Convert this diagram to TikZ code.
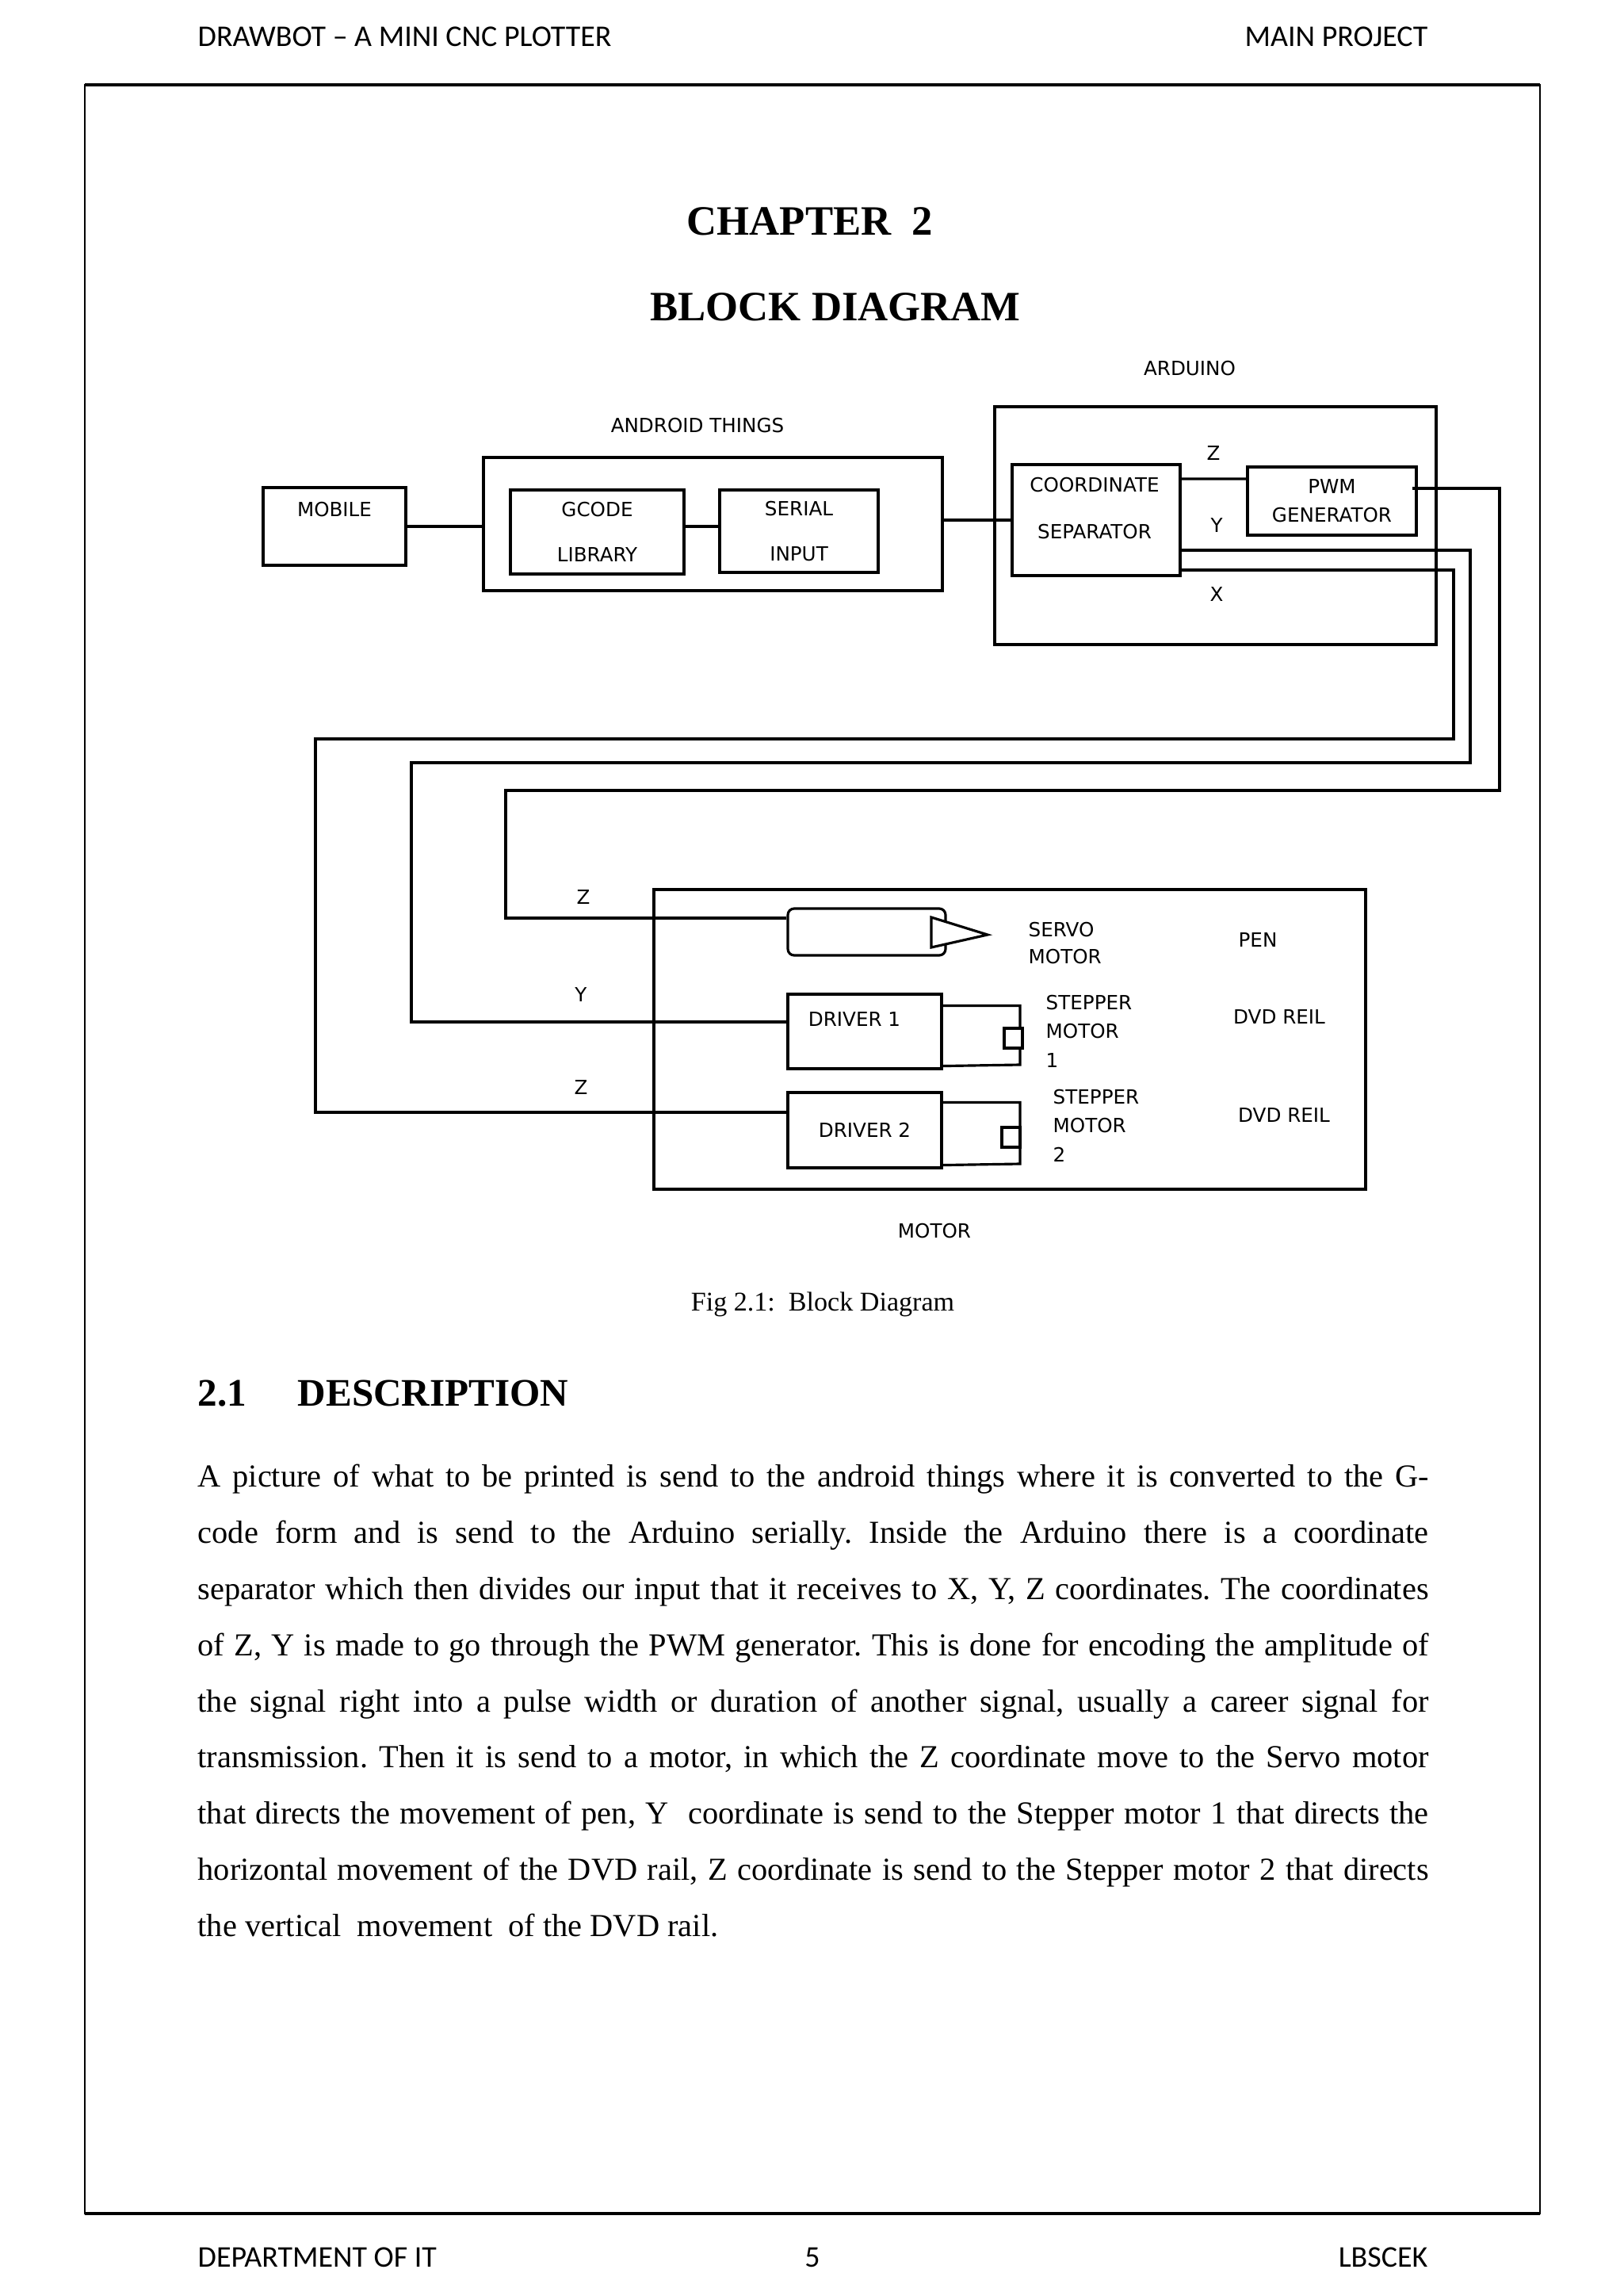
\documentclass[tikz,border=0pt]{standalone}
\usepackage{fontspec}
\setmainfont{Liberation Serif}
\newfontfamily\headfont{Carlito}
\newfontfamily\diagfont{DejaVu Sans}
\usetikzlibrary{positioning, calc}

\tikzset{
  block/.style={draw, line width=0.9pt, rectangle, inner sep=0pt},
  lbl/.style={font=\diagfont\fontsize{7}{8}\selectfont, inner sep=0pt},
  wire/.style={line width=0.9pt},
  headtxt/.style={font=\headfont\fontsize{10.8}{13}\selectfont, inner sep=0pt},
  titletxt/.style={font=\bfseries\fontsize{15}{18}\selectfont, inner sep=0pt},
}

\begin{document}
\begin{tikzpicture}[x=1cm, y=-1cm]
      \useasboundingbox (0,0) rectangle (20.48,28.96);

      % Page frame
      \draw[line width=0.25mm] (1.07,1.07) rectangle (19.43,27.92);
      \draw[line width=0.4mm] (1.07,1.07) -- (19.43,1.07);
      \draw[line width=0.4mm] (1.07,27.92) -- (19.43,27.92);

      % Header and footer
      \node[headtxt, anchor=base west] (headleft) at (2.49,0.59) {DRAWBOT – A MINI CNC PLOTTER};
      \node[headtxt, anchor=base east] (headright) at (18.02,0.59) {MAIN PROJECT};
      \node[headtxt, anchor=base west] (footleft) at (2.49,28.59) {DEPARTMENT OF IT};
      \node[headtxt, anchor=base] (footpage) at (10.25,28.59) {5};
      \node[headtxt, anchor=base east] (footright) at (18.02,28.59) {LBSCEK};

      % Titles
      \node[titletxt, anchor=base] (chapter) at (10.22,2.97) {CHAPTER\ \ 2};
      \node[titletxt, anchor=base] (title) at (10.54,4.05) {BLOCK DIAGRAM};

      % Android things
      \node[block, minimum width=1.80cm, minimum height=0.98cm] (mobile) at (4.22,6.64) {};
      \node[lbl, below=0.19cm of mobile.north] (mobiletxt) {MOBILE};

      \node[block, minimum width=5.79cm, minimum height=1.68cm] (android) at (8.995,6.61) {};
      \node[lbl] (androidtxt) at (8.80,5.37) {ANDROID THINGS};

      \node[block, lbl, line width=0.9pt, align=center, font=\diagfont\fontsize{7}{16.2}\selectfont,
            minimum width=2.19cm, minimum height=1.06cm] (gcode) at (7.535,6.71) {GCODE\\LIBRARY};
      \node[block, lbl, line width=0.9pt, align=center, font=\diagfont\fontsize{7}{16.2}\selectfont,
            minimum width=2.00cm, minimum height=1.04cm] (serial) at (10.08,6.70) {SERIAL\\INPUT};

      % Arduino
      \node[block, minimum width=5.57cm, minimum height=3.00cm] (arduino) at (15.335,6.63) {};
      \node[lbl] (arduinotxt) at (15.01,4.65) {ARDUINO};

      \node[block, minimum width=2.12cm, minimum height=1.40cm] (coordsep) at (13.83,6.56) {};
      \node[lbl, align=center, font=\diagfont\fontsize{7}{16.8}\selectfont] (coordtxt) at (13.81,6.415) {COORDINATE\\SEPARATOR};

      \node[block, lbl, line width=0.9pt, align=center, font=\diagfont\fontsize{7}{10.2}\selectfont,
            minimum width=2.13cm, minimum height=0.86cm] (pwm) at (16.805,6.32) {PWM\\GENERATOR};

      \node[lbl] (zin) at (15.31,5.72) {Z};
      \node[lbl] (yin) at (15.35,6.63) {Y};
      \node[lbl] (xin) at (15.35,7.50) {X};

      % Motor
      \node[block, minimum width=8.98cm, minimum height=3.78cm] (motor) at (12.74,13.11) {};
      \node[lbl] (motortxt) at (11.79,15.53) {MOTOR};

      \node[block, rounded corners=0.08cm, minimum width=1.99cm, minimum height=0.59cm] (servo) at (10.935,11.755) {};
      \draw[line width=0.9pt, fill=white] (11.75,11.57) -- (12.46,11.79) -- (11.75,11.95) -- cycle;
      \node[lbl, anchor=west, align=left, font=\diagfont\fontsize{7}{9.9}\selectfont] (servotxt) at (12.97,11.895) {SERVO\\MOTOR};
      \node[lbl] (pen) at (15.87,11.86) {PEN};

      \node[block, minimum width=1.94cm, minimum height=0.94cm] (driver1) at (10.91,13.01) {};
      \node[lbl] (driver1txt) at (10.78,12.86) {DRIVER 1};
      \node[block, lbl, line width=0.9pt, minimum width=1.94cm, minimum height=0.95cm] (driver2) at (10.91,14.255) {DRIVER 2};

      % Stepper motors
      \draw[wire] ([yshift=-0.16cm]driver1.north east) -| (12.87,13.43) -- ([yshift=0.05cm]driver1.south east);
      \node[block, fill=white, minimum width=0.23cm, minimum height=0.25cm] (coil1) at (12.785,13.095) {};
      \draw[wire] ([yshift=-0.14cm]driver2.north east) -| (12.87,14.68) -- ([yshift=0.05cm]driver2.south east);
      \node[block, fill=white, minimum width=0.23cm, minimum height=0.25cm] (coil2) at (12.755,14.345) {};

      \node[lbl, anchor=west, align=left, font=\diagfont\fontsize{7}{10.4}\selectfont] (step1txt) at (13.19,13.005) {STEPPER\\MOTOR\\1};
      \node[lbl, anchor=west, align=left, font=\diagfont\fontsize{7}{10.4}\selectfont] (step2txt) at (13.28,14.195) {STEPPER\\MOTOR\\2};
      \node[lbl] (rail1) at (16.14,12.83) {DVD REIL};
      \node[lbl] (rail2) at (16.20,14.07) {DVD REIL};

      \node[lbl] (zout) at (7.36,11.32) {Z};
      \node[lbl] (yout) at (7.33,12.55) {Y};
      \node[lbl] (xout) at (7.33,13.72) {Z};

      % Wires
      \draw[wire] (mobile.east) -- (mobile.east -| android.west);
      \draw[wire] (gcode.east |- mobile.east) -- (serial.west |- mobile.east);
      \draw[wire] (coordsep.west) -- (coordsep.west -| android.east);
      \draw[wire] ([yshift=0.52cm]coordsep.east) -- ([yshift=0.28cm]pwm.west);

      \draw[wire] ([xshift=-0.07cm, yshift=0.16cm]pwm.east) -| (18.92,9.97) -- (6.38,9.97) |- ([yshift=0.175cm]servo.west);
      \draw[wire] ([yshift=-0.38cm]coordsep.east) -| (18.55,9.62) -- (5.19,9.62) |- ([yshift=0.12cm]driver1.west);
      \draw[wire] ([yshift=-0.63cm]coordsep.east) -| (18.34,9.32) -- (3.98,9.32) |- ([yshift=0.225cm]driver2.west);

      % Caption and description
      \node[inner sep=0pt, anchor=base, font=\fontsize{9.7}{12}\selectfont] (caption) at (10.38,16.53) {Fig 2.1:\ \ Block Diagram};
      \node[inner sep=0pt, anchor=base west, font=\bfseries\fontsize{14}{16}\selectfont] (secnum) at (2.49,17.73) {2.1};
      \node[inner sep=0pt, anchor=base west, font=\bfseries\fontsize{14}{16}\selectfont] (sectitle) at (3.75,17.73) {DESCRIPTION};

      \node[inner sep=0pt, anchor=base west, text width=15.53cm, align=justify,
            font=\fontsize{11.5}{20.2}\selectfont] (desc) at (2.49,18.75) {\tolerance=10000\hyphenpenalty=10000\frenchspacing
        A picture of what to be printed is send to the android things where it is converted to the G-\linebreak
        code form and is send to the Arduino serially. Inside the Arduino there is a coordinate\linebreak
        separator which then divides our input that it receives to X, Y, Z coordinates. The coordinates\linebreak
        of Z, Y is made to go through the PWM generator. This is done for encoding the amplitude of\linebreak
        the signal right into a pulse width or duration of another signal, usually a career signal for\linebreak
        transmission. Then it is send to a motor, in which the Z coordinate move to the Servo motor\linebreak
        that directs the movement of pen, Y\ \ coordinate is send to the Stepper motor 1 that directs the\linebreak
        horizontal movement of the DVD rail, Z coordinate is send to the Stepper motor 2 that directs\linebreak
        the vertical\ \ movement\ \ of the DVD rail.};
    \end{tikzpicture}
\end{document}
